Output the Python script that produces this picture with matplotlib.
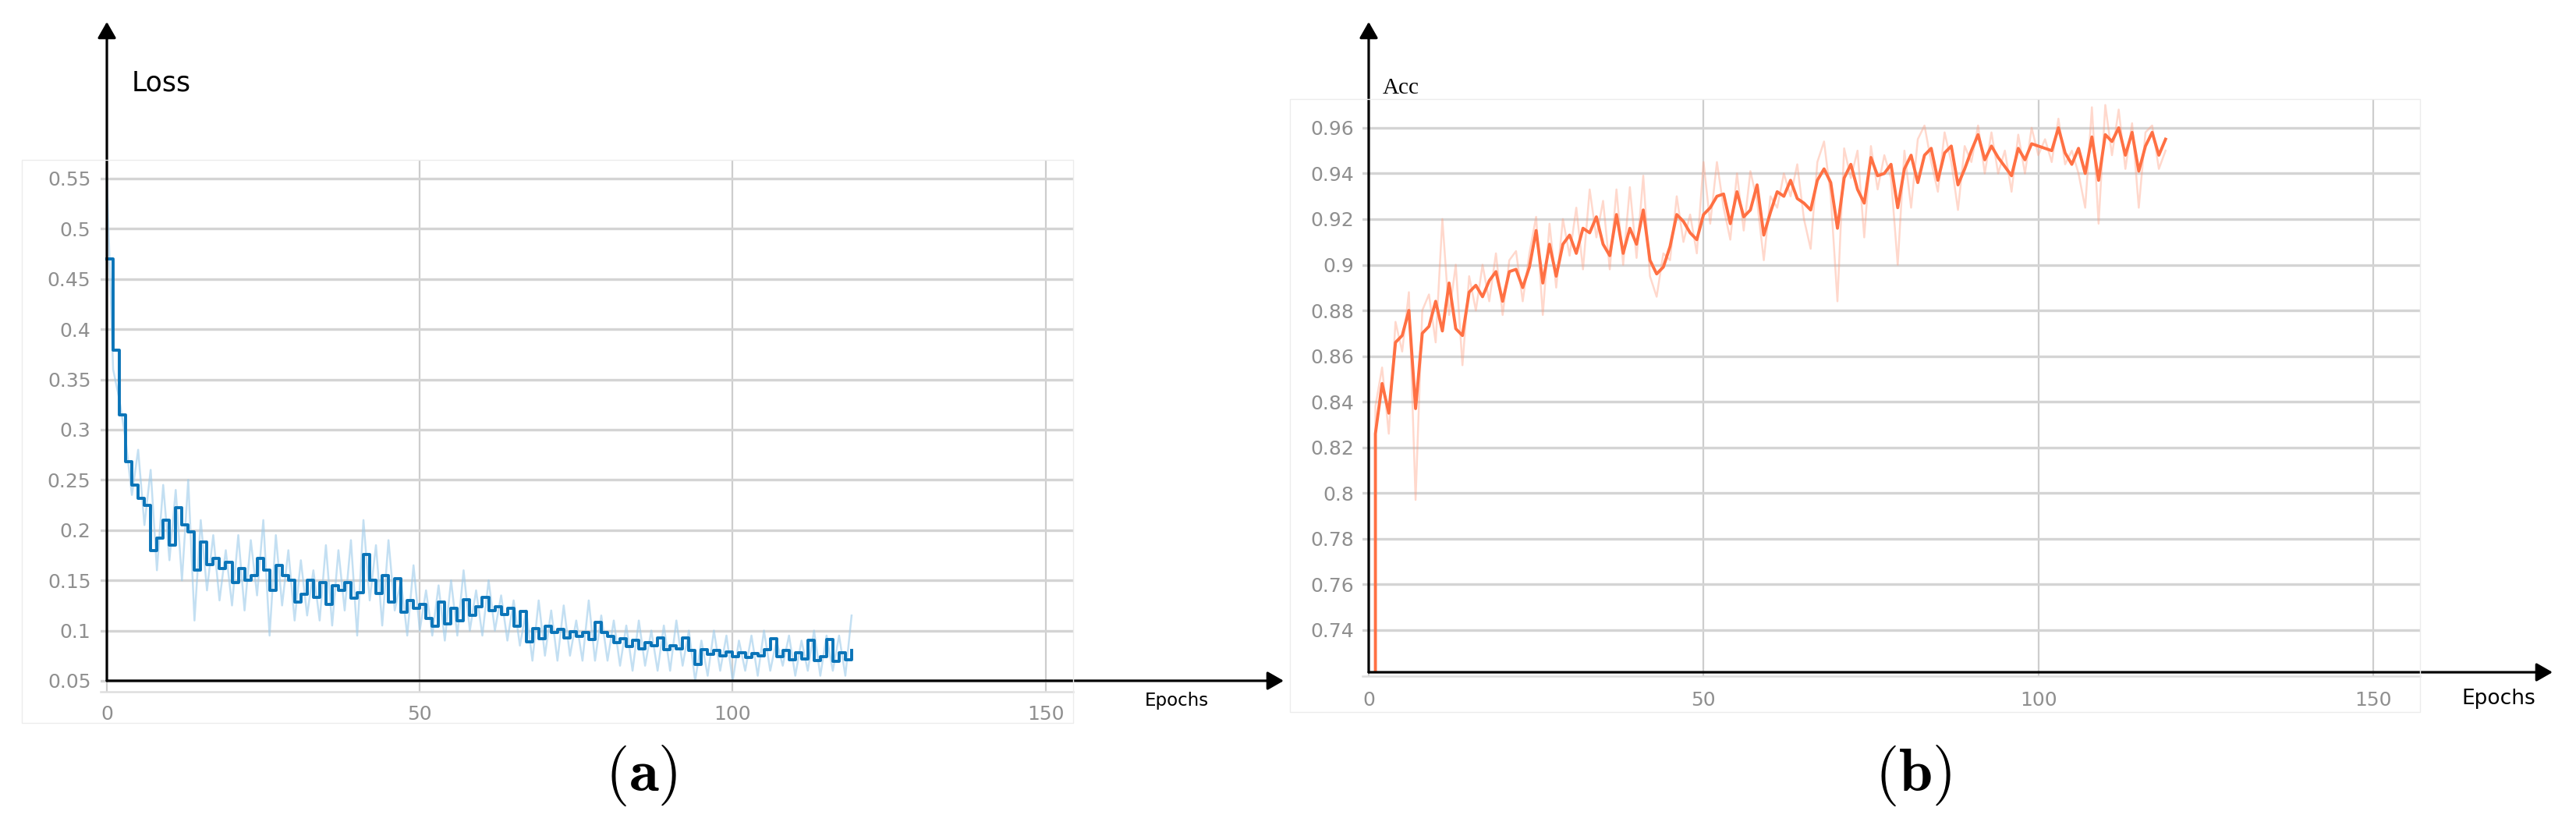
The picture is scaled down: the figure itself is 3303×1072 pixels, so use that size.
import numpy as np
import matplotlib.pyplot as plt
from matplotlib.patches import Rectangle

plt.rcParams['mathtext.fontset'] = 'cm'

# ---- data ----
loss_epochs = np.arange(0, 120)
loss_smooth = [0.470, 0.379, 0.315, 0.268, 0.245, 0.232, 0.225, 0.180, 0.192, 0.210,
               0.185, 0.222, 0.205, 0.198, 0.160, 0.188, 0.166, 0.172, 0.162, 0.168,
               0.148, 0.162, 0.150, 0.155, 0.172, 0.160, 0.140, 0.165, 0.155, 0.150,
               0.128, 0.136, 0.150, 0.133, 0.148, 0.126, 0.145, 0.140, 0.148, 0.132,
               0.138, 0.176, 0.150, 0.137, 0.155, 0.128, 0.152, 0.118, 0.130, 0.122,
               0.126, 0.112, 0.104, 0.128, 0.107, 0.122, 0.110, 0.131, 0.115, 0.124,
               0.133, 0.120, 0.124, 0.116, 0.122, 0.104, 0.119, 0.089, 0.102, 0.092,
               0.104, 0.098, 0.101, 0.093, 0.099, 0.094, 0.098, 0.091, 0.108, 0.098,
               0.094, 0.088, 0.092, 0.084, 0.090, 0.082, 0.088, 0.085, 0.093, 0.081,
               0.085, 0.082, 0.093, 0.080, 0.066, 0.081, 0.076, 0.080, 0.075, 0.079,
               0.074, 0.078, 0.073, 0.077, 0.075, 0.081, 0.092, 0.074, 0.080, 0.071,
               0.078, 0.072, 0.090, 0.070, 0.074, 0.091, 0.069, 0.078, 0.071, 0.080]
loss_raw = [0.550, 0.360, 0.330, 0.290, 0.235, 0.280, 0.205, 0.260, 0.160, 0.245,
            0.170, 0.240, 0.150, 0.250, 0.110, 0.210, 0.140, 0.195, 0.130, 0.180,
            0.125, 0.195, 0.120, 0.190, 0.135, 0.210, 0.095, 0.195, 0.125, 0.180,
            0.110, 0.170, 0.115, 0.160, 0.110, 0.185, 0.105, 0.180, 0.120, 0.190,
            0.095, 0.210, 0.130, 0.185, 0.105, 0.190, 0.120, 0.150, 0.095, 0.165,
            0.100, 0.140, 0.095, 0.145, 0.090, 0.150, 0.095, 0.160, 0.100, 0.140,
            0.095, 0.150, 0.100, 0.135, 0.090, 0.130, 0.085, 0.120, 0.070, 0.130,
            0.075, 0.120, 0.070, 0.125, 0.075, 0.110, 0.070, 0.130, 0.070, 0.115,
            0.070, 0.110, 0.065, 0.105, 0.060, 0.110, 0.065, 0.100, 0.060, 0.105,
            0.060, 0.110, 0.065, 0.100, 0.050, 0.090, 0.055, 0.100, 0.060, 0.095,
            0.050, 0.090, 0.060, 0.095, 0.055, 0.100, 0.060, 0.090, 0.065, 0.095,
            0.055, 0.090, 0.060, 0.100, 0.055, 0.095, 0.060, 0.095, 0.055, 0.115]

# epoch 1 appears twice: the curve starts with a jump straight up
acc_epochs = [1] + list(range(1, 120))
acc_smooth = [0.722,
              0.826, 0.848, 0.835, 0.866, 0.869, 0.880, 0.837, 0.870, 0.873, 0.884,
              0.871, 0.892, 0.872, 0.869, 0.888, 0.891, 0.886, 0.893, 0.897, 0.884,
              0.897, 0.898, 0.890, 0.899, 0.915, 0.892, 0.909, 0.895, 0.909, 0.913,
              0.905, 0.916, 0.914, 0.921, 0.909, 0.904, 0.922, 0.905, 0.916, 0.909,
              0.924, 0.902, 0.896, 0.899, 0.908, 0.922, 0.919, 0.914, 0.911, 0.922,
              0.925, 0.930, 0.931, 0.918, 0.932, 0.921, 0.924, 0.935, 0.913, 0.923,
              0.932, 0.930, 0.937, 0.929, 0.927, 0.924, 0.937, 0.942, 0.936, 0.916,
              0.938, 0.944, 0.933, 0.927, 0.947, 0.939, 0.940, 0.944, 0.925, 0.942,
              0.948, 0.936, 0.948, 0.951, 0.937, 0.949, 0.952, 0.935, 0.942, 0.950,
              0.957, 0.946, 0.952, 0.947, 0.943, 0.939, 0.951, 0.946, 0.953, 0.952,
              0.951, 0.950, 0.960, 0.949, 0.944, 0.951, 0.940, 0.956, 0.937, 0.957,
              0.954, 0.960, 0.948, 0.958, 0.941, 0.952, 0.958, 0.948, 0.955]
acc_raw = [0.722,
           0.838, 0.855, 0.826, 0.875, 0.862, 0.888, 0.797, 0.880, 0.887, 0.866,
           0.920, 0.878, 0.900, 0.856, 0.895, 0.880, 0.900, 0.884, 0.905, 0.878,
           0.902, 0.906, 0.884, 0.905, 0.921, 0.878, 0.918, 0.890, 0.920, 0.904,
           0.925, 0.898, 0.933, 0.912, 0.928, 0.898, 0.933, 0.900, 0.934, 0.903,
           0.939, 0.895, 0.886, 0.905, 0.902, 0.930, 0.910, 0.922, 0.905, 0.945,
           0.918, 0.945, 0.925, 0.911, 0.940, 0.915, 0.941, 0.928, 0.902, 0.930,
           0.925, 0.940, 0.930, 0.944, 0.920, 0.907, 0.945, 0.954, 0.930, 0.884,
           0.951, 0.938, 0.950, 0.912, 0.952, 0.933, 0.948, 0.938, 0.900, 0.950,
           0.925, 0.955, 0.961, 0.945, 0.932, 0.958, 0.945, 0.924, 0.952, 0.945,
           0.961, 0.940, 0.958, 0.940, 0.950, 0.932, 0.957, 0.940, 0.960, 0.948,
           0.955, 0.945, 0.964, 0.944, 0.950, 0.940, 0.925, 0.969, 0.918, 0.970,
           0.948, 0.968, 0.942, 0.962, 0.925, 0.958, 0.961, 0.942, 0.950]

loss_yticks = [0.05, 0.1, 0.15, 0.2, 0.25, 0.3, 0.35, 0.4, 0.45, 0.5, 0.55]
loss_ylabels = ['0.05', '0.1', '0.15', '0.2', '0.25', '0.3', '0.35', '0.4', '0.45', '0.5', '0.55']
acc_yticks = [0.74, 0.76, 0.78, 0.8, 0.82, 0.84, 0.86, 0.88, 0.9, 0.92, 0.94, 0.96]
acc_ylabels = ['0.74', '0.76', '0.78', '0.8', '0.82', '0.84', '0.86', '0.88', '0.9', '0.92', '0.94', '0.96']
epoch_ticks = [0, 50, 100, 150]

W, H = 3303, 1072
fig = plt.figure(figsize=(W / 100, H / 100), dpi=100)


def fx(px):
    return px / W


def fy(py):
    return 1 - py / H


def panel(rect, xlim, ylim, yticks, ylabels, ypad, xpad):
    ax = fig.add_axes(rect)
    ax.set_xlim(*xlim)
    ax.set_ylim(*ylim)
    ax.set_xticks(epoch_ticks)
    ax.set_yticks(yticks)
    ax.set_yticklabels(ylabels)
    ax.tick_params(axis='y', length=0, pad=ypad, labelsize=18, labelcolor='#8f8f8f')
    ax.tick_params(axis='x', length=0, pad=xpad, labelsize=18, labelcolor='#8f8f8f')
    ax.grid(axis='y', color='#d4d4d4', lw=2.4)
    ax.grid(axis='x', color='#cdcdcd', lw=1.6)
    for s in ['top', 'left', 'right']:
        ax.spines[s].set_visible(False)
    ax.spines['bottom'].set_color('#dedede')
    ax.spines['bottom'].set_linewidth(1.8)
    ax.set_axisbelow(True)
    return ax


def black_axes(ax, y0, top_px, right_px):
    props = dict(arrowstyle='-|>,head_length=0.35,head_width=0.2', lw=2.3,
                 color='black', mutation_scale=36, shrinkA=0, shrinkB=0)
    ax.annotate('', xy=(0, fy(top_px)), xycoords=('data', 'figure fraction'),
                xytext=(0, y0), textcoords='data', arrowprops=props,
                annotation_clip=False, zorder=10)
    ax.annotate('', xy=(fx(right_px), y0), xycoords=('figure fraction', 'data'),
                xytext=(0, y0), textcoords='data', arrowprops=props,
                annotation_clip=False, zorder=10)


# faint card frames behind each panel
fig.patches.append(Rectangle((fx(28), fy(927)), fx(1376) - fx(28), fy(205) - fy(927),
                             transform=fig.transFigure, fill=False, ec='#ececec', lw=1))
fig.patches.append(Rectangle((fx(1654), fy(913)), fx(3103) - fx(1654), fy(127) - fy(913),
                             transform=fig.transFigure, fill=False, ec='#ececec', lw=1))

# (a) loss
ax1 = panel([fx(129), fy(887), fx(1376) - fx(129), fy(205) - fy(887)],
            (-1, 154.4), (0.0391, 0.5686), loss_yticks, loss_ylabels, 9, 12)
ax1.plot(loss_epochs, loss_raw, color='#9ccbea', lw=1.8, alpha=0.6, zorder=2)
ax1.plot(loss_epochs, loss_smooth, color='#0a74b8', lw=2.8, drawstyle='steps-post', zorder=3)
black_axes(ax1, 0.05, 28, 1646)
fig.text(fx(169), fy(117), 'Loss', fontsize=25, ha='left', va='baseline')
fig.text(fx(1468), fy(898), 'Epochs', fontsize=16.5, ha='left', va='center')

# (b) accuracy
ax2 = panel([fx(1747), fy(867), fx(3103) - fx(1747), fy(127) - fy(867)],
            (-0.93, 157.0), (0.7198, 0.9726), acc_yticks, acc_ylabels, 8, 14)
ax2.plot(acc_epochs, acc_raw, color='#ff9e80', lw=1.8, alpha=0.4, zorder=2)
ax2.plot(acc_epochs, acc_smooth, color='#ff7043', lw=2.8, zorder=3)
black_axes(ax2, 0.7215, 28, 3273)
fig.text(fx(1773), fy(120), 'Acc', family='Liberation Serif', fontsize=21,
         ha='left', va='baseline')
fig.text(fx(3156), fy(896), 'Epochs', fontsize=19, ha='left', va='center')

# captions
fig.text(fx(822), fy(994), r'$(\mathbf{a})$', fontsize=56, ha='center', va='center')
fig.text(fx(2453), fy(994), r'$(\mathbf{b})$', fontsize=56, ha='center', va='center')

fig.savefig('out.png', dpi=100, facecolor='white')
